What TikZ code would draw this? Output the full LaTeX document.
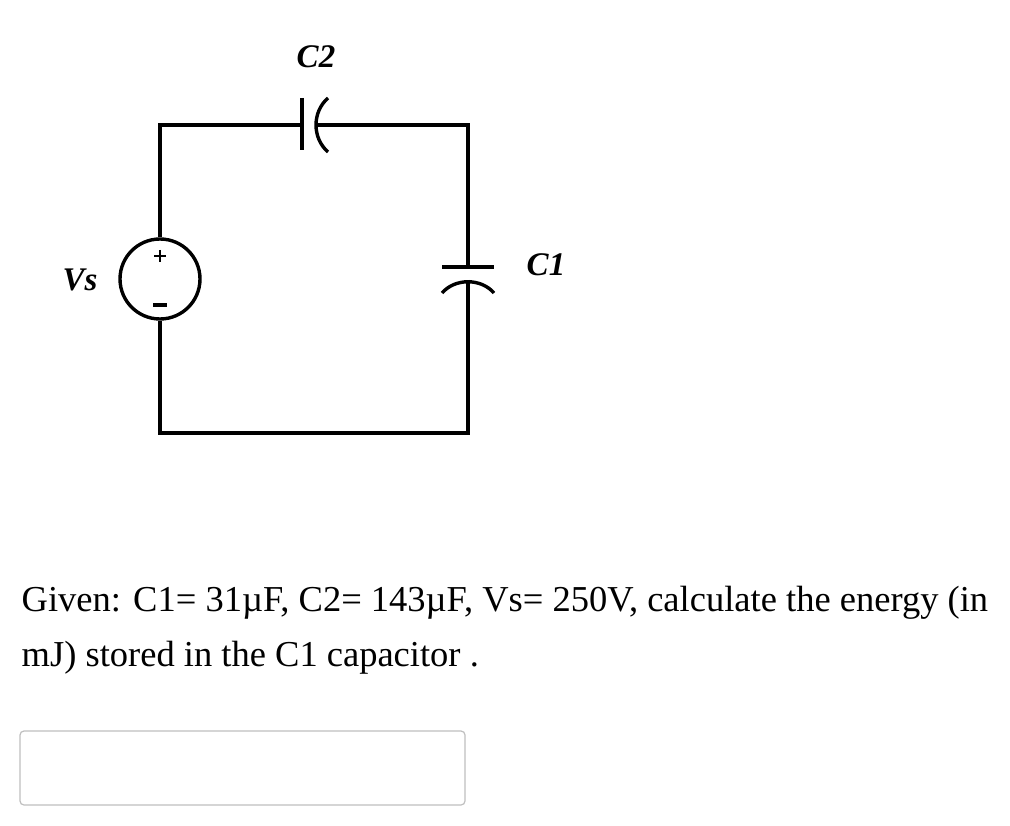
\documentclass[tikz,border=0pt]{standalone}
\usepackage{fontspec}
\setmainfont{Liberation Serif}
\begin{document}
\begin{tikzpicture}[x=1pt,y=-1pt,line width=3.4pt,
  lbl/.style={font=\fontsize{33}{36}\selectfont\bfseries\itshape},
  txt/.style={font=\fontsize{36.5}{40}\selectfont,anchor=base west,inner sep=0pt}]
\useasboundingbox (0,0) rectangle (1010,826);
\fill[white] (0,0) rectangle (1010,826);
\coordinate (tl) at (160,125); \coordinate (tr) at (468,125);
\coordinate (bl) at (160,433); \coordinate (br) at (468,433);
\node[circle,draw,minimum size=80pt,inner sep=0pt] (vs) at (160,279) {};
\draw[line width=2.6pt] (154,256) -- (166,256) (160,250) -- (160,262);
\draw (153,305) -- (167,305);
\coordinate (c2a) at (302,125); \coordinate (c2b) at (315,125);
\coordinate (c1a) at (468,267); \coordinate (c1b) at (468,280);
\draw (vs.north) -- (tl) -- (c2a);
\draw (302,98) -- (302,150);
\draw (328,98) .. controls (312,112) and (312,138) .. (328,152);
\draw (c2b) -- (tr) -- (c1a);
\draw (442,267) -- (494,267);
\draw (442,293) .. controls (455,278) and (481,278) .. (494,293);
\draw (c1b) -- (br) -- (bl) -- (vs.south);
\node[lbl] (l2) at (316,57) {C2};
\node[lbl] (l1) at (546,265) {C1};
\node[lbl] (lv) at (80,280) {Vs};
\node[txt] (t1) at (20,611) {Given: C1= 31µF, C2= 143µF, Vs= 250V, calculate the energy (in};
\node[txt] (t2) at (20,666) {mJ) stored in the C1 capacitor .};
\draw[line width=1.2pt,draw=black!25,rounded corners=4pt] (20,731) rectangle (465,805);
\end{tikzpicture}
\end{document}
